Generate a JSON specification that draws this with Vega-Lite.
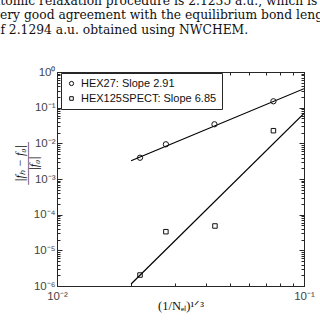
{
  "$schema": "https://vega.github.io/schema/vega-lite/v6.json",
  "width": 247,
  "height": 214,
  "autosize": "none",
  "padding": {"left": 57, "top": 72, "right": 16, "bottom": 34},
  "background": "white",
  "title": {
    "text": ["atomic relaxation procedure is 2.1235 a.u., which is in", "very good agreement with the equilibrium bond length", "of 2.1294 a.u. obtained using NWCHEM."],
    "anchor": "start",
    "frame": "group",
    "font": "DejaVu Serif",
    "fontSize": 12.3,
    "fontWeight": "normal",
    "color": "#111111",
    "lineHeight": 14.5,
    "baseline": "bottom",
    "offset": 17,
    "dx": -64
  },
  "config": {
    "view": {"stroke": "#262626", "strokeWidth": 1},
    "axis": {
      "grid": false,
      "domainColor": "#262626",
      "tickColor": "#262626",
      "labelColor": "#444444",
      "labelFont": "Liberation Sans",
      "labelFontSize": 11.5,
      "labelOverlap": false,
      "labelFlush": false,
      "titleColor": "#111111",
      "titleFont": "Liberation Serif",
      "titleFontWeight": "normal"
    },
    "legend": {
      "orient": "none",
      "legendX": 4,
      "legendY": 1,
      "fillColor": "white",
      "strokeColor": "#262626",
      "padding": 5,
      "labelFont": "Liberation Sans",
      "labelFontSize": 11,
      "labelColor": "#111111",
      "symbolSize": 18,
      "symbolStrokeWidth": 1,
      "symbolStrokeColor": "#111111",
      "symbolFillColor": "transparent",
      "rowPadding": 3
    }
  },
  "datasets": {
    "fits": [
      {"series": "HEX27", "x": 0.01995, "y": 0.00326},
      {"series": "HEX27", "x": 0.1, "y": 0.340},
      {"series": "HEX125SPECT", "x": 0.01995, "y": 0.00000114},
      {"series": "HEX125SPECT", "x": 0.1, "y": 0.0695}
    ],
    "points": [
      {"series": "HEX27", "x": 0.02168, "y": 0.00395},
      {"series": "HEX27", "x": 0.0276, "y": 0.0094},
      {"series": "HEX27", "x": 0.0434, "y": 0.0342},
      {"series": "HEX27", "x": 0.0752, "y": 0.151},
      {"series": "HEX125SPECT", "x": 0.02168, "y": 0.00000203},
      {"series": "HEX125SPECT", "x": 0.0276, "y": 0.0000333},
      {"series": "HEX125SPECT", "x": 0.0436, "y": 0.0000482},
      {"series": "HEX125SPECT", "x": 0.0752, "y": 0.0226}
    ]
  },
  "resolve": {"axis": {"x": "independent", "y": "independent"}},
  "layer": [
    {
      "data": {"name": "fits"},
      "mark": {"type": "line", "color": "#000000", "strokeWidth": 1.2, "clip": true},
      "encoding": {
        "x": {
          "field": "x", "type": "quantitative",
          "scale": {"type": "log", "domain": [0.01, 0.1], "nice": false},
          "axis": {
            "orient": "bottom",
            "values": [0.01, 0.02, 0.03, 0.04, 0.05, 0.06, 0.07, 0.08, 0.09, 0.1],
            "labelExpr": "datum.value == 0.01 ? '10⁻²' : datum.value == 0.1 ? '10⁻¹' : ''",
            "tickSize": {"condition": {"test": "datum.value == 0.01 || datum.value == 0.1", "value": -5}, "value": -3},
            "labelPadding": 9,
            "title": "(1/Nₑₗ)¹ᐟ³",
            "titleFontSize": 12.5,
            "titleBaseline": "middle",
            "titleY": 19
          }
        },
        "y": {
          "field": "y", "type": "quantitative",
          "scale": {"type": "log", "domain": [0.000001, 1], "nice": false},
          "axis": {
            "orient": "left",
            "values": [0.000001, 0.000002, 0.000003, 0.000004, 0.000005, 0.000006, 0.000007, 0.000008, 0.000009, 0.00001, 0.00002, 0.00003, 0.00004, 0.00005, 0.00006, 0.00007, 0.00008, 0.00009, 0.0001, 0.0002, 0.0003, 0.0004, 0.0005, 0.0006, 0.0007, 0.0008, 0.0009, 0.001, 0.002, 0.003, 0.004, 0.005, 0.006, 0.007, 0.008, 0.009, 0.01, 0.02, 0.03, 0.04, 0.05, 0.06, 0.07, 0.08, 0.09, 0.1, 0.2, 0.3, 0.4, 0.5, 0.6, 0.7, 0.8, 0.9, 1],
            "labelExpr": "datum.value == 1 ? '10⁰' : datum.value == 0.1 ? '10⁻¹' : datum.value == 0.01 ? '10⁻²' : datum.value == 0.001 ? '10⁻³' : datum.value == 0.0001 ? '10⁻⁴' : datum.value == 0.00001 ? '10⁻⁵' : datum.value == 0.000001 ? '10⁻⁶' : ''",
            "tickSize": {"condition": {"test": "indexof([1, 0.1, 0.01, 0.001, 0.0001, 0.00001, 0.000001], datum.value) >= 0", "value": -5}, "value": -3},
            "labelPadding": 7,
            "title": ["|fₕ − f₀|", "————", "|f₀|"],
            "titleFontSize": 12,
            "titleFontStyle": "italic",
            "titleLineHeight": 7,
            "titleAngle": -90,
            "titleBaseline": "middle",
            "titleAlign": "center",
            "titleX": -38,
            "titleY": 91
          }
        },
        "detail": {"field": "series"}
      }
    },
    {
      "data": {"name": "points"},
      "mark": {"type": "point", "filled": false, "color": "#111111", "strokeWidth": 1, "size": 28, "opacity": 1},
      "encoding": {
        "x": {
          "field": "x", "type": "quantitative",
          "scale": {"type": "log", "domain": [0.01, 0.1], "nice": false},
          "axis": {
            "orient": "top",
            "values": [0.01, 0.02, 0.03, 0.04, 0.05, 0.06, 0.07, 0.08, 0.09, 0.1],
            "labels": false,
            "title": null,
            "tickSize": {"condition": {"test": "datum.value == 0.01 || datum.value == 0.1", "value": -5}, "value": -3}
          }
        },
        "y": {
          "field": "y", "type": "quantitative",
          "scale": {"type": "log", "domain": [0.000001, 1], "nice": false},
          "axis": {
            "orient": "right",
            "values": [0.000001, 0.000002, 0.000003, 0.000004, 0.000005, 0.000006, 0.000007, 0.000008, 0.000009, 0.00001, 0.00002, 0.00003, 0.00004, 0.00005, 0.00006, 0.00007, 0.00008, 0.00009, 0.0001, 0.0002, 0.0003, 0.0004, 0.0005, 0.0006, 0.0007, 0.0008, 0.0009, 0.001, 0.002, 0.003, 0.004, 0.005, 0.006, 0.007, 0.008, 0.009, 0.01, 0.02, 0.03, 0.04, 0.05, 0.06, 0.07, 0.08, 0.09, 0.1, 0.2, 0.3, 0.4, 0.5, 0.6, 0.7, 0.8, 0.9, 1],
            "labels": false,
            "title": null,
            "tickSize": {"condition": {"test": "indexof([1, 0.1, 0.01, 0.001, 0.0001, 0.00001, 0.000001], datum.value) >= 0", "value": -5}, "value": -3}
          }
        },
        "shape": {
          "field": "series", "type": "nominal",
          "scale": {"domain": ["HEX27", "HEX125SPECT"], "range": ["circle", "M-0.85,-0.85H0.85V0.85H-0.85Z"]},
          "legend": {
            "title": null,
            "labelExpr": "datum.label == 'HEX27' ? 'HEX27: Slope 2.91' : 'HEX125SPECT: Slope 6.85'"
          }
        }
      }
    }
  ]
}
